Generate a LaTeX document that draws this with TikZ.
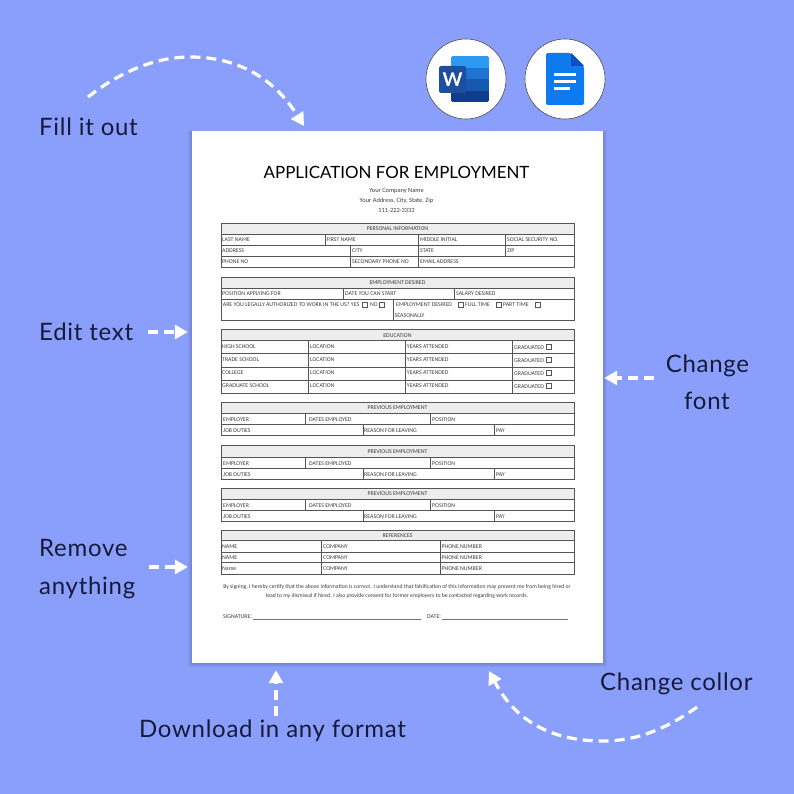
\documentclass[tikz,border=0pt]{standalone}
\usepackage{fontspec}
\usetikzlibrary{arrows.meta}
\newfontfamily\labelfont[LetterSpace=3]{Lato}
\newfontfamily\formfont{Carlito}
\newfontfamily\titlefont{Lato}
\definecolor{bgblue}{HTML}{8A9FFB}
\definecolor{inkdark}{HTML}{171A38}
\definecolor{formink}{HTML}{3C3C3C}
\definecolor{formgrid}{HTML}{555555}
\definecolor{docblue}{HTML}{0F79F0}
\definecolor{docfold}{HTML}{0B4FC0}
\definecolor{wordtop}{HTML}{2B9AF0}
\definecolor{wordsecond}{HTML}{1D74D2}
\definecolor{wordthird}{HTML}{1559B0}
\definecolor{wordlow}{HTML}{103C8E}
\definecolor{wordbox}{HTML}{1D4FA0}
\tikzset{
 sidelabel/.style={font=\labelfont\fontsize{24}{24}\selectfont,text=inkdark,anchor=west,inner sep=0pt,text height=17pt,text depth=0pt},
 cell/.style={font=\formfont\fontsize{5.85}{5.85}\selectfont,text=formink,anchor=west,inner sep=0pt,text height=3.6pt,text depth=0pt},
 headcell/.style={cell,anchor=center},
 smallline/.style={font=\formfont\fontsize{6.4}{6.4}\selectfont,text=formink,anchor=center,inner sep=0pt},
 certline/.style={smallline,font=\formfont\fontsize{5.7}{5.7}\selectfont},
 formline/.style={draw=formgrid,line width=0.7pt},
 headband/.style={formline,fill=black!7},
 checkbox/.style={draw=formgrid,line width=0.4pt,minimum size=5pt,inner sep=0pt},
 flowarrow/.style={draw=white,line width=3.2pt,dash pattern=on 10pt off 6pt,-{Triangle[length=13pt,width=14pt]}},
}
\begin{document}
\begin{tikzpicture}[x=1pt,y=-1pt]
 \useasboundingbox (0,0) rectangle (794,794);
 \fill[bgblue] (0,0) rectangle (794,794);
 % sheet
 \foreach \s in {4,3,2,1}
  \fill[black,opacity=0.04] (192-\s,131) rectangle (603+\s,663+\s);
 \node[fill=white,minimum width=411pt,minimum height=532pt,inner sep=0pt] (sheet) at (397.5,397) {};
 % icons
 \node[draw=black!70,fill=white,circle,minimum size=80pt,inner sep=0pt,line width=0.6pt] (wordicon) at (466,79) {};
 \node[draw=black!70,fill=white,circle,minimum size=80pt,inner sep=0pt,line width=0.6pt] (docsicon) at (565,79) {};
 \begin{scope}
  \clip[rounded corners=1.5pt] (451,56) rectangle (489,102);
  \fill[wordtop] (451,56) rectangle (489,68);
  \fill[wordsecond] (451,68) rectangle (489,79);
  \fill[wordthird] (451,79) rectangle (489,91);
  \fill[wordlow] (451,91) rectangle (489,102);
 \end{scope}
 \fill[wordbox,rounded corners=1.5pt] (439,66) rectangle (466,93);
 \node[font=\titlefont\bfseries\fontsize{19}{19}\selectfont,text=white,inner sep=0pt] (wordmark) at (452.5,79.5) {W};
 \fill[docblue,rounded corners=2pt] (546,53) -- (571,53) -- (584,66) -- (584,105) -- (546,105) -- cycle;
 \fill[docfold] (571,53) -- (584,66) -- (571,66) -- cycle;
 \fill[white] (554,73.5) rectangle (576,76.5);
 \fill[white] (554,80.5) rectangle (576,83.5);
 \fill[white] (554,87.5) rectangle (570,90.5);
 % heading
 \node[font=\titlefont\fontsize{16.9}{16.9}\selectfont,text=black,inner sep=0pt] (formtitle) at (396.5,172) {APPLICATION FOR EMPLOYMENT};
 \node[smallline] (company) at (396.5,190.5) {Your Company Name};
 \node[smallline] (address) at (396.5,200.5) {Your Address, City, State, Zip};
 \node[smallline] (phone) at (396.5,210) {111-222-3333};
 % personal information
 \draw[headband] (221,223.5) rectangle (574.5,234.7);
 \draw[formline] (221,234.7) rectangle (574.5,267.7);
 \draw[formline] (221,245.7) -- (574.5,245.7);
 \draw[formline] (221,256.7) -- (574.5,256.7);
 \draw[formline] (325,234.7) -- (325,245.7);
 \draw[formline] (350.3,245.7) -- (350.3,267.7);
 \draw[formline] (418.7,234.7) -- (418.7,267.7);
 \draw[formline] (505.3,234.7) -- (505.3,256.7);
 \node[headcell] (personalhead) at (397.5,229) {PERSONAL INFORMATION};
 \node[cell] (lastname) at (222,240) {LAST NAME};
 \node[cell] (firstname) at (326.5,240) {FIRST NAME};
 \node[cell] (middle) at (420,240) {MIDDLE INITIAL};
 \node[cell] (social) at (507,240) {SOCIAL SECURITY NO.};
 \node[cell] (addr) at (222,251) {ADDRESS};
 \node[cell] (city) at (352,251) {CITY};
 \node[cell] (state) at (420,251) {STATE};
 \node[cell] (zip) at (507,251) {ZIP};
 \node[cell] (phoneno) at (222,262) {PHONE NO};
 \node[cell] (secondary) at (352,262) {SECONDARY PHONE NO};
 \node[cell] (email) at (420,262) {EMAIL ADDRESS};
 % employment desired
 \draw[headband] (221,277.5) rectangle (574,288);
 \draw[formline] (221,288) rectangle (574,320.7);
 \draw[formline] (221,299) -- (574,299);
 \draw[formline] (343,288) -- (343,299);
 \draw[formline] (454.7,288) -- (454.7,299);
 \draw[formline] (393.7,299) -- (393.7,320.7);
 \node[headcell] (desiredhead) at (397.5,283) {EMPLOYMENT DESIRED};
 \node[cell] (position) at (222,293.5) {POSITION APPLYING FOR};
 \node[cell] (startdate) at (345,293.5) {DATE YOU CAN START};
 \node[cell] (salary) at (456,293.5) {SALARY DESIRED};
 \node[cell] (legally) at (222.7,305) {ARE YOU LEGALLY AUTHORIZED TO WORK IN THE US? YES};
 \node[cell] (no) at (370,305) {NO};
 \node[cell] (desired) at (396,305) {EMPLOYMENT DESIRED};
 \node[cell] (fulltime) at (465,305) {FULL TIME};
 \node[cell] (parttime) at (503,305) {PART TIME};
 \node[cell] (seasonally) at (394.5,315.5) {SEASONALLY};
 \foreach \n/\x in {yes/364.7,nobox/382,full/460.2,part/498.7,season/537.5}
  \node[checkbox] (box\n) at (\x,305) {};
 % education
 \draw[headband] (221,329.7) rectangle (574,340.7);
 \draw[formline] (221,340.7) rectangle (574,393.7);
 \draw[formline] (221,353.7) -- (574,353.7);
 \draw[formline] (221,367) -- (574,367);
 \draw[formline] (221,380.3) -- (574,380.3);
 \draw[formline] (308.7,340.7) -- (308.7,393.7);
 \draw[formline] (405.7,340.7) -- (405.7,393.7);
 \draw[formline] (512.7,340.7) -- (512.7,393.7);
 \node[headcell] (educationhead) at (397.5,335.5) {EDUCATION};
 \foreach \k/\y/\school in {1/346.5/HIGH SCHOOL,2/359.5/TRADE SCHOOL,3/372.5/COLLEGE,4/385.5/GRADUATE SCHOOL}{
  \node[cell] (school\k) at (222,\y) {\school};
  \node[cell] (location\k) at (310,\y) {LOCATION};
  \node[cell] (years\k) at (406.7,\y) {YEARS ATTENDED};
  \node[cell] (graduated\k) at (514,\y+1) {GRADUATED};
  \node[checkbox] (gradbox\k) at (548.8,\y+0.5) {};
 }
 % previous employment
 \foreach \k/\y in {1/402,2/445.7,3/488}{
  \draw[headband] (221,\y) rectangle (574,\y+11.5);
  \draw[formline] (221,\y+11.5) rectangle (574,\y+33.5);
  \draw[formline] (221,\y+22.5) -- (574,\y+22.5);
  \draw[formline] (305.7,\y+11.5) -- (305.7,\y+22.5);
  \draw[formline] (430,\y+11.5) -- (430,\y+22.5);
  \draw[formline] (363,\y+22.5) -- (363,\y+33.5);
  \draw[formline] (494.7,\y+22.5) -- (494.7,\y+33.5);
  \node[headcell] (prevhead\k) at (397.5,\y+6) {PREVIOUS EMPLOYMENT};
  \node[cell] (employer\k) at (223,\y+17.5) {EMPLOYER};
  \node[cell] (dates\k) at (309,\y+17.5) {DATES EMPLOYED};
  \node[cell] (jobpos\k) at (432,\y+17.5) {POSITION};
  \node[cell] (duties\k) at (223,\y+28.5) {JOB DUTIES};
  \node[cell] (reason\k) at (364,\y+28.5) {REASON FOR LEAVING};
  \node[cell] (pay\k) at (496,\y+28.5) {PAY};
 }
 % references
 \draw[headband] (221,530) rectangle (574,540.7);
 \draw[formline] (221,540.7) rectangle (574,574.3);
 \draw[formline] (221,552.3) -- (574,552.3);
 \draw[formline] (221,562.7) -- (574,562.7);
 \draw[formline] (321.3,540.7) -- (321.3,574.3);
 \draw[formline] (440.3,540.7) -- (440.3,574.3);
 \node[headcell] (refhead) at (397.5,535.5) {REFERENCES};
 \foreach \k/\y/\who in {1/546.5/NAME,2/557.5/NAME,3/568.5/Name}{
  \node[cell] (refname\k) at (222,\y) {\who};
  \node[cell] (refcompany\k) at (323,\y) {COMPANY};
  \node[cell] (refphone\k) at (441.5,\y) {PHONE NUMBER};
 }
 % signing
 \node[certline] (certify1) at (397,587) {By signing, I hereby certify that the above information is correct. I understand that falsification of this information may prevent me from being hired or};
 \node[certline] (certify2) at (397,596) {lead to my dismissal if hired. I also provide consent for former employers to be contacted regarding work records.};
 \node[cell] (signature) at (223,616.5) {SIGNATURE:};
 \node[cell] (datelabel) at (427,616.5) {DATE:};
 \draw[draw=black!55,line width=0.5pt] (253,619) -- (421,619);
 \draw[draw=black!55,line width=0.5pt] (442,619) -- (568,619);
 % side labels
 \node[sidelabel] (fillit) at (39,127) {Fill it out};
 \node[sidelabel] (edittext) at (39,332) {Edit text};
 \node[sidelabel] (remove) at (39,548) {Remove};
 \node[sidelabel] (anything) at (39,586) {anything};
 \node[sidelabel,anchor=center] (change) at (707.5,364) {Change};
 \node[sidelabel,anchor=center] (fontlabel) at (707,401) {font};
 \node[sidelabel] (changecolor) at (600,682) {Change collor};
 \node[sidelabel] (download) at (139,729) {Download in any format};
 % arrows
 \coordinate (fillstart) at (88,97);
 \coordinate (filltop) at (190,57);
 \coordinate (filltip) at (304,126);
 \coordinate (colorstart) at (697,707);
 \coordinate (colorlow) at (603,741);
 \coordinate (colortip) at (489,671);
 \draw[flowarrow] (fillstart) .. controls (120,72) and (155,57) .. (filltop) .. controls (240,57) and (275,80) .. (filltip);
 \draw[flowarrow] (colorstart) .. controls (665,730) and (635,741) .. (colorlow) .. controls (550,741) and (515,720) .. (colortip);
 \draw[flowarrow,shorten <=15pt,shorten >=4pt] (edittext.east) -- (edittext.east -| sheet.west);
 \coordinate (removeout) at (149,567);
 \coordinate (fontout) at (654,378);
 \coordinate (downloadout) at (276,716);
 \draw[flowarrow,shorten >=4pt] (removeout) -- (removeout -| sheet.west);
 \draw[flowarrow,shorten >=1pt] (fontout) -- (fontout -| sheet.east);
 \draw[flowarrow,shorten >=7pt] (downloadout) -- (downloadout |- sheet.south);
\end{tikzpicture}
\end{document}
